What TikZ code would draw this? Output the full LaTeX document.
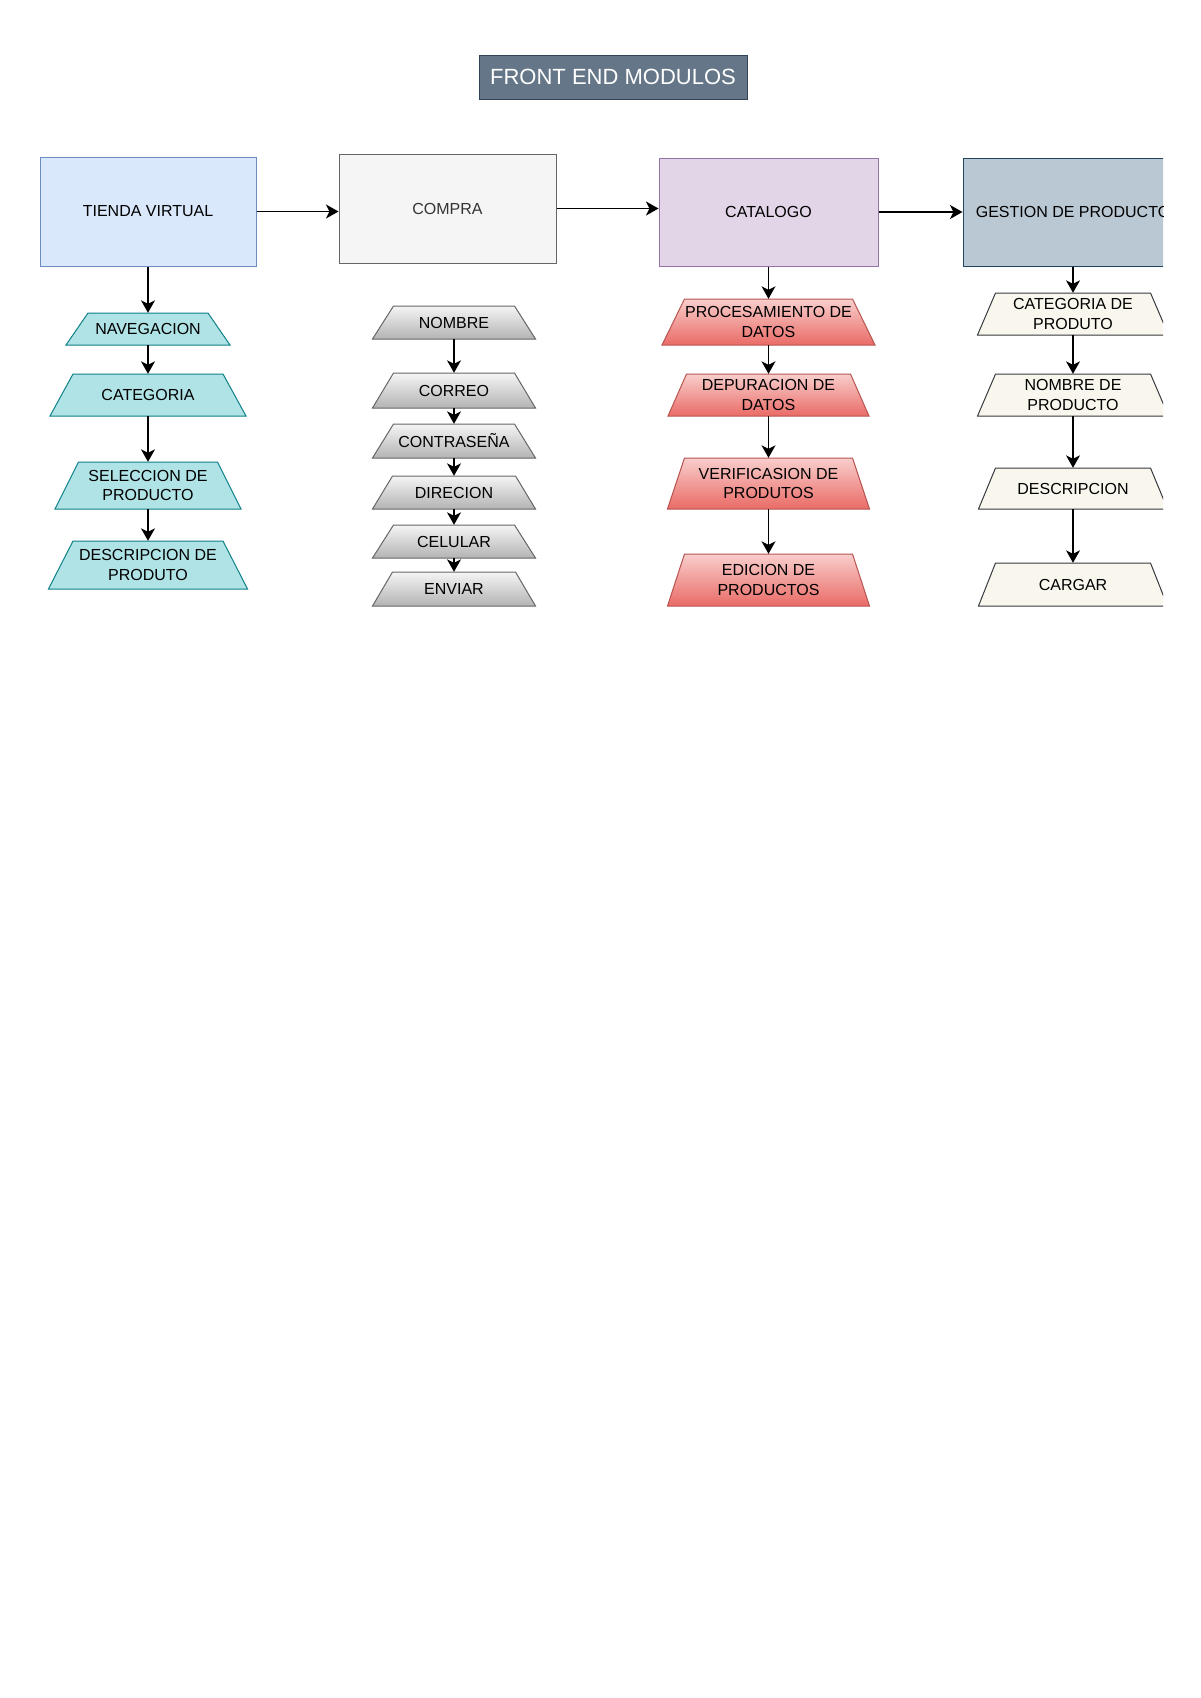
\documentclass[tikz,border=0pt]{standalone}
\usepackage{fontspec}
\setmainfont{Liberation Sans}
\usetikzlibrary{arrows.meta}

\definecolor{tiendafill}{HTML}{DAE8FC}\definecolor{tiendaline}{HTML}{6C8EBF}
\definecolor{comprafill}{HTML}{F5F5F5}\definecolor{compraline}{HTML}{666666}
\definecolor{catfill}{HTML}{E1D5E7}\definecolor{catline}{HTML}{9673A6}
\definecolor{gestfill}{HTML}{BAC8D3}\definecolor{gestline}{HTML}{23445D}
\definecolor{titlefill}{HTML}{647687}\definecolor{titleline}{HTML}{314354}
\definecolor{tealfill}{HTML}{B0E3E6}\definecolor{tealline}{HTML}{0E8088}
\definecolor{beigefill}{HTML}{F9F7ED}\definecolor{beigeline}{HTML}{36393D}
\definecolor{redtop}{HTML}{F8CECC}\definecolor{redbot}{HTML}{EA6B66}\definecolor{redline}{HTML}{B85450}
\definecolor{graytop}{HTML}{F5F5F5}\definecolor{graybot}{HTML}{B3B3B3}

% trapezoid drawn first, then a named node on top of it
% #1 name, #2 x, #3 y, #4 top width, #5 bottom width, #6 height, #7 look, #8 text
\newcommand{\trapnode}[8]{%
  \draw[#7] ({#2-#4/2},{#3-#6/2}) -- ({#2+#4/2},{#3-#6/2}) -- ({#2+#5/2},{#3+#6/2}) -- ({#2-#5/2},{#3+#6/2}) -- cycle;
  \node[traptext, minimum width=#4, minimum height=#6] (#1) at (#2,#3) {#8};
}

\begin{document}
\begin{tikzpicture}[x=1pt, y=-1pt,
  every node/.style={font=\fontsize{16}{19.5}\selectfont},
  modbox/.style={draw, line width=1pt, minimum width=217, minimum height=108, inner sep=0},
  traptext/.style={inner sep=0, align=center, text=black},
  tealtrap/.style={fill=tealfill, draw=tealline, line width=1pt},
  graytrap/.style={top color=graytop, bottom color=graybot, draw=compraline, line width=1pt},
  redtrap/.style={top color=redtop, bottom color=redbot, draw=redline, line width=1pt},
  beigetrap/.style={fill=beigefill, draw=beigeline, line width=1pt},
  flecha/.style={-{Stealth[length=12.5pt, width=14pt, inset=3.5pt]}, line width=1.3pt}]

\useasboundingbox[fill=white] (0,0) rectangle (1200,1698);
\clip (0,0) rectangle (1163,1698);

% titulo
\node[draw=titleline, fill=titlefill, text=white, line width=1pt, minimum width=268, minimum height=44,
  font=\fontsize{22}{26}\selectfont] (titulo) at (613,77) {FRONT END MODULOS};

% modulos
\node[modbox, fill=tiendafill, draw=tiendaline, minimum width=216, minimum height=109] (tienda) at (148,211.5) {TIENDA VIRTUAL};
\node[modbox, fill=comprafill, draw=compraline, text=black!80, minimum height=109] (compra) at (447.5,208.5) {COMPRA};
\node[modbox, fill=catfill, draw=catline, minimum width=219] (catalogo) at (768.5,212) {CATALOGO};
\node[modbox, fill=gestfill, draw=gestline, minimum width=220] (gestion) at (1073,212) {GESTION DE PRODUCTO};

\draw[flecha] (tienda.east) -- (compra.west |- tienda.east);
\draw[flecha] (compra.east) -- (catalogo.west |- compra.east);
\draw[flecha] (catalogo.east) -- (gestion.west |- catalogo.east);

% tienda virtual
\trapnode{nav}{148}{329}{120}{164}{32}{tealtrap}{NAVEGACION}
\trapnode{cate}{148}{395}{150}{196}{42}{tealtrap}{CATEGORIA}
\trapnode{selec}{148}{485.5}{139}{186}{47}{tealtrap}{SELECCION DE\\PRODUCTO}
\trapnode{descr}{148}{565}{150}{199}{48}{tealtrap}{DESCRIPCION DE\\PRODUTO}

\draw[flecha] (tienda) -- (nav);
\draw[flecha] (nav) -- (cate);
\draw[flecha] (cate) -- (selec);
\draw[flecha] (selec) -- (descr);

% compra
\trapnode{nombre}{454}{322.5}{121}{163}{33}{graytrap}{NOMBRE}
\trapnode{correo}{454}{390.5}{121}{163}{35}{graytrap}{CORREO}
\trapnode{contra}{454}{441}{121}{163}{34}{graytrap}{CONTRASEÑA}
\trapnode{direc}{454}{492.5}{123}{163}{33}{graytrap}{DIRECION}
\trapnode{celular}{454}{541.5}{121}{163}{33}{graytrap}{CELULAR}
\trapnode{enviar}{454}{589}{123}{163}{34}{graytrap}{ENVIAR}

\draw[flecha] (nombre) -- (correo);
\draw[flecha] (correo) -- (contra);
\draw[flecha] (contra) -- (direc);
\draw[flecha] (direc) -- (celular);
\draw[flecha] (celular) -- (enviar);

% catalogo
\trapnode{proc}{768.5}{322}{168}{213}{46}{redtrap}{PROCESAMIENTO DE\\DATOS}
\trapnode{depu}{768.5}{395}{164}{201}{42}{redtrap}{DEPURACION DE\\DATOS}
\trapnode{verif}{768.5}{483.5}{168}{202}{51}{redtrap}{VERIFICASION DE\\PRODUTOS}
\trapnode{edic}{768.5}{580}{168}{202}{52}{redtrap}{EDICION DE\\PRODUCTOS}

\draw[flecha] (catalogo) -- (proc);
\draw[flecha] (proc) -- (depu);
\draw[flecha] (depu) -- (verif);
\draw[flecha] (verif) -- (edic);

% gestion de producto
\trapnode{catp}{1073}{314}{155}{191}{42}{beigetrap}{CATEGORIA DE\\PRODUTO}
\trapnode{nomp}{1073}{395}{155}{191}{42}{beigetrap}{NOMBRE DE\\PRODUCTO}
\trapnode{descp}{1073}{488.5}{155}{189}{41}{beigetrap}{DESCRIPCION}
\trapnode{cargar}{1073}{584.5}{155}{189}{43}{beigetrap}{CARGAR}

\draw[flecha] (gestion) -- (catp);
\draw[flecha] (catp) -- (nomp);
\draw[flecha] (nomp) -- (descp);
\draw[flecha] (descp) -- (cargar);

\end{tikzpicture}
\end{document}
